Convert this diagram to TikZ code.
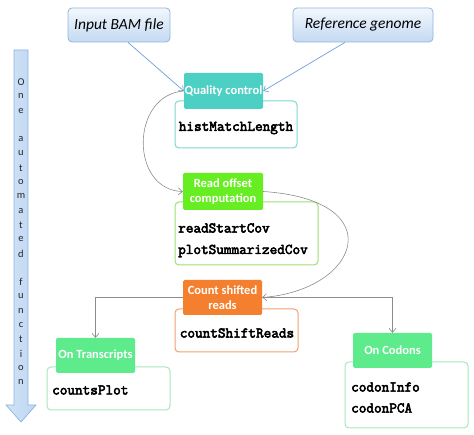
\documentclass[tikz,border=0pt]{standalone}
\usepackage{fontspec}
\setmainfont{Carlito}
\newfontfamily\codefont[FakeBold=3.5]{Latin Modern Mono}
\usetikzlibrary{arrows.meta,calc}
\definecolor{inborder}{HTML}{95B3D7}
\definecolor{intop}{HTML}{F2F7FD}
\definecolor{inbot}{HTML}{C3DAF2}
\definecolor{qcfill}{HTML}{4DD0C4}
\definecolor{qcline}{HTML}{7FD8D0}
\definecolor{rofill}{HTML}{66EE22}
\definecolor{roline}{HTML}{9EE070}
\definecolor{csfill}{HTML}{F47F2E}
\definecolor{csline}{HTML}{F0A070}
\definecolor{cdfill}{HTML}{5DEB8B}
\definecolor{cdline}{HTML}{A6E8BC}
\definecolor{varfill}{HTML}{BDD7F2}
\definecolor{varline}{HTML}{8DB3E2}
\definecolor{grayarr}{HTML}{8C8C8C}
\definecolor{bluearr}{HTML}{6F9FD8}
\begin{document}
\begin{tikzpicture}[x=1pt,y=-1pt,
  inbox/.style={draw=inborder,line width=0.8pt,rounded corners=4pt,top color=intop,bottom color=inbot,
    minimum height=34pt,inner sep=0pt,font=\fontsize{15.5}{18}\selectfont\itshape},
  head/.style={inner sep=0pt,text=white,align=center,rounded corners=1.5pt,font=\fontsize{12.5}{14.5}\selectfont\bfseries},
  fbox/.style={draw=#1,fill=white,line width=1pt,rounded corners=4pt,inner sep=0pt},
  code/.style={inner sep=0pt,font=\fontsize{14.8}{16}\codefont},
  garr/.style={draw=grayarr,line width=0.6pt,-{Straight Barb[length=4pt,width=7pt]}},
  barr/.style={draw=bluearr,line width=0.7pt,-{Straight Barb[length=4pt,width=7pt]}},
  vlet/.style={inner sep=0pt,font=\fontsize{10.5}{12}\selectfont,text=black!85}
]
\useasboundingbox (0,0) rectangle (474,435);

% vertical arrow
\path[draw=varline,line width=0.7pt,left color=varfill!70!white,right color=varfill,middle color=varfill!85!white]
  (14,50) -- (28,50) -- (28,405) -- (36,405) -- (21,422) -- (6,405) -- (14,405) -- cycle;
\foreach \ch [count=\i from 0] in {O,n,e,{},a,u,t,o,m,a,t,e,d,{},f,u,n,c,t,i,o,n}
  \node[vlet] (l\i) at (21,82+14.29*\i) {\ch};

% inputs
\node[inbox,minimum width=102pt] (bam) at (119,25) {Input BAM file};
\node[inbox,minimum width=140pt] (rg) at (363,25) {Reference genome};

% function boxes
\node[fbox=qcline,minimum width=122pt,minimum height=47pt] (hbox) at (236,124.5) {};
\node[fbox=roline,minimum width=143pt,minimum height=63pt] (rbox) at (246.5,233.5) {};
\node[fbox=csline,minimum width=123pt,minimum height=43pt] (cbox) at (236.5,330.5) {};
\node[fbox=cdline,minimum width=123pt,minimum height=43pt] (tbox) at (108.5,388.5) {};
\node[fbox=cdline,minimum width=123pt,minimum height=66pt] (dbox) at (406.5,395) {};

% headers
\node[head,fill=qcfill,minimum width=79pt,minimum height=36pt] (qc) at (223.5,91) {Quality control};
\node[head,fill=rofill,minimum width=80pt,minimum height=37pt] (ro) at (223,191.5) {Read offset\\computation};
\node[head,fill=csfill,minimum width=79pt,minimum height=35pt] (cs) at (222.5,297.5) {Count shifted\\reads};
\node[head,fill=cdfill,minimum width=79pt,minimum height=35pt] (ot) at (95.5,355.5) {On Transcripts};
\node[head,fill=cdfill,minimum width=79pt,minimum height=35pt] (oc) at (392.5,350.5) {On Codons};

% code texts
\node[code] (hml) at (236,128) {histMatchLength};
\node[code,anchor=west] (rsc) at (178,228) {readStartCov};
\node[code,anchor=west] (psc) at (178,251) {plotSummarizedCov};
\node[code] (csr) at (237,333) {countShiftReads};
\node[code,anchor=west] (cpl) at (52,390) {countsPlot};
\node[code,anchor=west] (cinfo) at (351,387) {codonInfo};
\node[code,anchor=west] (cpca) at (351,408) {codonPCA};

% connectors
\draw[barr] ([xshift=9pt]bam.south) -- (qc.west);
\draw[barr] ([xshift=-18pt]rg.south) -- (qc.east);
\draw[garr] (qc.west) .. controls (130,95) and (130,190) .. (ro.west);
\draw[garr] (ro.east) .. controls (392,200) and (360,290) .. (cs.east);
\draw[garr] (cs.west) -| (ot.north);
\draw[garr] (cs.east) -| (oc.north);
\end{tikzpicture}
\end{document}
